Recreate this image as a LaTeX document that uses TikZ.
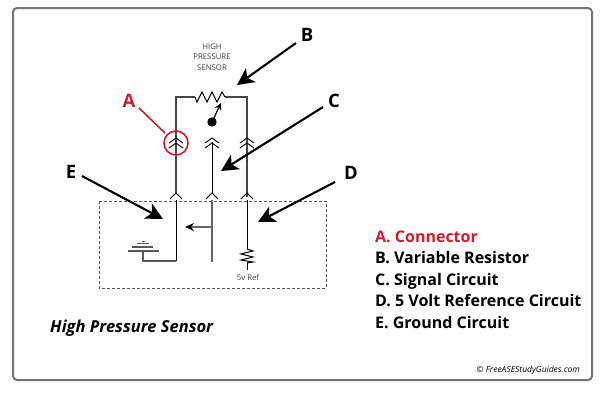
\documentclass[tikz,border=0pt]{standalone}
\usepackage{fontspec}
\setmainfont{Open Sans}
\usetikzlibrary{arrows.meta}
\definecolor{redc}{RGB}{200,32,50}
\definecolor{wire}{RGB}{70,70,70}
\tikzset{
 x=1pt,y=-1pt,
 callout/.style={line width=2.1pt,-{Stealth[length=17pt,width=17pt,inset=4.5pt]}},
 letter/.style={font=\fontsize{18.5}{18.5}\selectfont\bfseries,inner sep=0pt},
 legend/.style={font=\fontsize{16}{16}\selectfont\bfseries,inner sep=0pt,anchor=base west},
 wireline/.style={line width=1.1pt,color=wire},
 blackwire/.style={line width=1pt,color=black},
 chev/.style={line width=.9pt,black},
 small/.style={font=\fontsize{7.8}{10.5}\selectfont,inner sep=0pt,color=black!75,align=center},
}
\begin{document}
\begin{tikzpicture}
\useasboundingbox (0,0) rectangle (605,400);
\fill[white] (0,0) rectangle (605,400);
\draw[line width=2pt,color=black!55,rounded corners=4pt] (13,8) rectangle (592,380);
% dashed box
\draw[line width=1pt,color=black!65,dash pattern=on 3pt off 2pt] (99,201) rectangle (326,288);
% circuit wires
\coordinate (tl) at (176,97); \coordinate (tr) at (247,97);
\coordinate (rl) at (195,97); \coordinate (rr) at (225,97);
\coordinate (bl) at (176,261); \coordinate (gnd) at (143,261); \coordinate (gt) at (143,251);
\draw[wireline] (rl) -- (tl) -- (176,193);
\draw[blackwire] (176,200) -- (bl);
\draw[line width=1.2pt,color=black!65] (bl) -- (gnd) -- (gt);
\draw[wireline] (rr) -- (tr) -- (247,197);
\draw[blackwire] (247,200) -- (247,249);
\draw[blackwire] (247,270) -- (247,262);
% variable resistor
\draw[blackwire,line join=miter] (rl) -- (197,102) -- (202,92) -- (207,102) -- (212,92) -- (217,102) -- (222,92) -- (rr);
\fill (212,122) circle (4.7);
\draw[line width=1.2pt,-{Stealth[length=7pt,width=7pt]}] (212,122) -- (221,103);
% signal
\draw[blackwire] (212,142) -- (212,193);
\draw[line width=1.4pt,color=black!60] (212,200) -- (212,262);
\draw[line width=1.2pt,color=black!60,-{Stealth[length=9pt,width=8pt,black]}] (212,227) -- (185,227);
% 5v resistor
\draw[blackwire] (247,249) -- (253,251) -- (241,254) -- (253,257) -- (241,260) -- (253,262) -- (247,263);
% ground bars
\draw[line width=1.2pt,color=black!65] (128,251) -- (159,251);
\draw[line width=1.2pt,color=black!65] (132,247) -- (153,247);
\draw[line width=.9pt,color=black!65] (137,243.5) -- (149,243.5);
\draw[line width=.9pt,color=black!65] (142,241) -- (145,241);
% upper chevrons
\foreach \X in {176,212,247}{
 \draw[chev] (\X-7,143) -- (\X,138) -- (\X+7,143);
 \draw[chev] (\X-7,148) -- (\X,143) -- (\X+7,148);
 \draw[chev] (\X-6,199) -- (\X,193) -- (\X+6,199);
}
% red circle and A
\draw[line width=1.6pt,redc] (176,143) circle (12);
\node[letter,text=redc] (la) at (129,101) {A};
\coordinate (ca) at (165,133);
\draw[line width=1.6pt,redc] (139,108) -- (ca);
% callouts
\node[letter] (lb) at (307,35) {B};
\node[letter] (lc) at (334,101) {C};
\node[letter] (ld) at (351,173) {D};
\node[letter] (le) at (71,172) {E};
\coordinate (tb) at (237,85); \coordinate (tc) at (221,171); \coordinate (td) at (258,222); \coordinate (te) at (163,219);
\draw[callout] (296,43) -- (tb);
\draw[callout] (323,107) -- (tc);
\draw[callout] (335,182) -- (td);
\draw[callout] (82,176) -- (te);
% text
\node[small] (hp) at (212,57) {HIGH\\PRESSURE\\SENSOR};
\node[small] (ref) at (248,278) {5v Ref};
\node[legend,text=redc] (n1) at (375,242) {A. Connector};
\node[legend] (n2) at (375,263.5) {B. Variable Resistor};
\node[legend] (n3) at (375,285) {C. Signal Circuit};
\node[legend] (n4) at (375,306.5) {D. 5 Volt Reference Circuit};
\node[legend] (n5) at (375,328) {E. Ground Circuit};
\node[font=\fontsize{16.5}{16.5}\selectfont\bfseries\itshape,inner sep=0pt,anchor=base west] (title) at (50,332) {High Pressure Sensor};
\node[font=\fontsize{8.5}{8.5}\selectfont\itshape,inner sep=0pt,anchor=base east] (copy) at (580,372) {© FreeASEStudyGuides.com};
\end{tikzpicture}
\end{document}
